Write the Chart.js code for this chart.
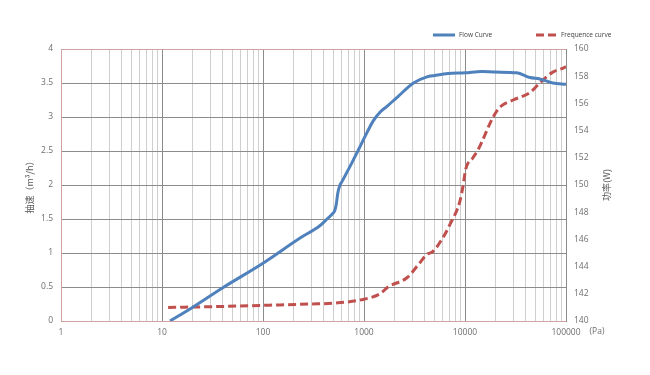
<!DOCTYPE html>
<html>
<head>
<meta charset="utf-8">
<script src="https://cdn.jsdelivr.net/npm/chart.js@4"></script>
<style>
  body { margin: 0; background: #fff; }
  #wrap { width: 650px; height: 375px; position: relative; }
</style>
</head>
<body>
<div id="wrap"><canvas id="myChart"></canvas></div>
<script>
// Flow curve (left axis, m3/h)
const flowPressure = [12, 20, 40, 100, 233, 365, 430, 490, 515, 532, 550, 575, 605, 725, 875, 1070, 1230, 1440, 1700, 2130, 3090, 4200, 5000, 6800, 10000, 14700, 20000, 32500, 44000, 55000, 74000, 100000];
const flowSpeed = [0, 0.2, 0.49, 0.85, 1.22, 1.4, 1.5, 1.58, 1.63, 1.72, 1.88, 1.99, 2.05, 2.27, 2.51, 2.77, 2.94, 3.07, 3.16, 3.29, 3.5, 3.59, 3.61, 3.64, 3.65, 3.67, 3.66, 3.65, 3.58, 3.56, 3.5, 3.48];

// Frequence curve (right axis, W)
const freqPressure = [11.5, 30, 100, 300, 490, 1000, 1440, 1730, 2680, 3500, 4200, 4800, 5900, 7100, 8900, 9550, 10200, 12000, 13500, 19000, 22000, 30000, 44000, 55000, 74000, 94000, 100000];
const freqPower = [141.0, 141.05, 141.15, 141.25, 141.3, 141.6, 142.0, 142.5, 143.2, 144.2, 144.9, 145.1, 146.0, 147.1, 148.8, 149.9, 151.2, 152.0, 152.6, 155.0, 155.7, 156.25, 156.8, 157.5, 158.3, 158.6, 158.7];

const decades = [1, 10, 100, 1000, 10000, 100000];
const seriesNames = ['Flow Curve', 'Frequence curve'];

const blue = '#4f81bd';
const red = '#c0504d';
const pink = '#cfa3a3';

// all 1..9 ticks for every decade, so the minor grid lines show
let xTickValues = [];
decades.forEach(d => {
  if (d === 100000) { xTickValues.push(d); return; }
  for (let i = 1; i < 10; i++) xTickValues.push(d * i);
});

function toPoints(xs, ys) {
  return xs.map((x, i) => ({ x: x, y: ys[i] }));
}

const tickFont = { family: 'Open Sans', size: 8.5 };
const tickColor = '#6e6e6e';
const titleFont = '9px "Noto Sans CJK SC"';

// legend, the right axis title and the "(Pa)" unit drawn on the canvas
const extras = {
  id: 'extras',
  afterDraw(chart) {
    const ctx = chart.ctx;
    const area = chart.chartArea;
    const items = [
      { x1: 433, x2: 455, tx: 459, ds: chart.data.datasets[0] },
      { x1: 536, x2: 556, tx: 561, ds: chart.data.datasets[1] }
    ];
    ctx.save();
    items.forEach(it => {
      ctx.beginPath();
      ctx.strokeStyle = it.ds.borderColor;
      ctx.lineWidth = 3;
      ctx.setLineDash(it.ds.borderDash || []);
      ctx.moveTo(it.x1, 35);
      ctx.lineTo(it.x2, 35);
      ctx.stroke();
      ctx.setLineDash([]);
      ctx.fillStyle = '#404040';
      ctx.font = '6.5px "Open Sans"';
      ctx.textBaseline = 'middle';
      ctx.fillText(it.ds.label, it.tx, 35);
    });
    ctx.fillStyle = tickColor;
    ctx.font = '8.5px "Open Sans"';
    ctx.textAlign = 'center';
    ctx.textBaseline = 'middle';
    ctx.fillText('(Pa)', 597, 332);

    ctx.translate(607, (area.top + area.bottom) / 2);
    ctx.rotate(-Math.PI / 2);
    ctx.fillStyle = '#595959';
    ctx.font = titleFont;
    ctx.fillText('功率(W)', 0, 0);
    ctx.restore();
  }
};

const graph = document.getElementById('myChart').getContext('2d');
let myChart = new Chart(graph, {
  type: 'scatter',
  data: {
    datasets: [{
      label: seriesNames[0],
      data: toPoints(flowPressure, flowSpeed),
      yAxisID: 'y',
      showLine: true,
      borderColor: blue,
      backgroundColor: blue,
      borderWidth: 3,
      pointRadius: 0,
      cubicInterpolationMode: 'monotone'
    }, {
      label: seriesNames[1],
      data: toPoints(freqPressure, freqPower),
      yAxisID: 'y1',
      showLine: true,
      borderColor: red,
      backgroundColor: red,
      borderWidth: 3,
      borderDash: [8, 4],
      pointRadius: 0,
      cubicInterpolationMode: 'monotone'
    }]
  },
  options: {
    responsive: true,
    maintainAspectRatio: false,
    animation: false,
    layout: { padding: { top: 49, left: 0, right: 0, bottom: 0 } },
    plugins: {
      legend: { display: false },
      tooltip: { enabled: false }
    },
    scales: {
      x: {
        type: 'logarithmic',
        min: 1,
        max: 100000,
        afterBuildTicks: scale => {
          scale.ticks = xTickValues.map(v => ({ value: v }));
        },
        afterFit: scale => { scale.height = 54; },
        ticks: {
          autoSkip: false,
          maxRotation: 0,
          padding: 6,
          color: tickColor,
          font: tickFont,
          callback: value => decades.includes(value) ? String(value) : ''
        },
        grid: {
          drawTicks: false,
          color: ctx => decades.includes(ctx.tick.value) ? '#8c8c8c' : '#cfcfcf'
        },
        border: { color: pink }
      },
      y: {
        position: 'left',
        min: 0,
        max: 4,
        afterFit: scale => { scale.width = 61; },
        ticks: {
          stepSize: 0.5, padding: 8, color: tickColor, font: tickFont,
          callback: value => String(value)
        },
        grid: {
          drawTicks: false,
          color: ctx => ctx.tick.value === 4 ? pink : '#8c8c8c'
        },
        border: { color: pink },
        title: {
          display: true,
          text: '抽速（m³/h）',
          color: '#595959',
          font: { family: 'Noto Sans CJK SC', size: 9 },
          padding: { top: 24.6, bottom: 0 }
        }
      },
      y1: {
        position: 'right',
        min: 140,
        max: 160,
        afterFit: scale => { scale.width = 84; },
        ticks: {
          stepSize: 2, padding: 8, color: tickColor, font: tickFont,
          callback: value => String(value)
        },
        grid: { drawOnChartArea: false, drawTicks: false },
        border: { color: '#8c8c8c' }
      }
    }
  },
  plugins: [extras]
});
</script>
</body>
</html>
